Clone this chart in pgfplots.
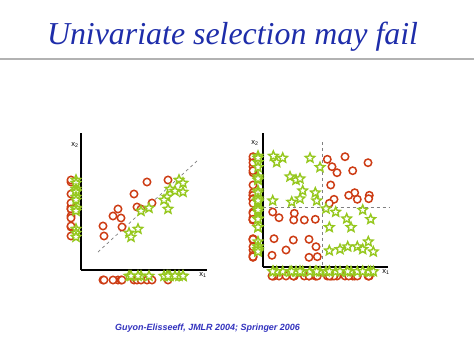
\documentclass[border=0pt]{standalone}
\usepackage{pgfplots}
\usepackage{pgfplotstable}
\pgfplotsset{compat=1.18}
\usepackage{fontspec}
\setmainfont{Liberation Serif}
\setsansfont{Liberation Sans}
\definecolor{tblue}{RGB}{30,45,170}
\definecolor{cblue}{RGB}{50,50,190}
\definecolor{pred}{RGB}{205,60,20}
\definecolor{pgreen}{RGB}{150,200,30}
\pgfdeclareplotmark{pstar}{%
  \pgfpathmoveto{\pgfpointpolar{90}{\pgfplotmarksize}}%
  \pgfpathlineto{\pgfpointpolar{126}{0.45\pgfplotmarksize}}%
  \pgfpathlineto{\pgfpointpolar{162}{\pgfplotmarksize}}%
  \pgfpathlineto{\pgfpointpolar{198}{0.45\pgfplotmarksize}}%
  \pgfpathlineto{\pgfpointpolar{234}{\pgfplotmarksize}}%
  \pgfpathlineto{\pgfpointpolar{270}{0.45\pgfplotmarksize}}%
  \pgfpathlineto{\pgfpointpolar{306}{\pgfplotmarksize}}%
  \pgfpathlineto{\pgfpointpolar{342}{0.45\pgfplotmarksize}}%
  \pgfpathlineto{\pgfpointpolar{18}{\pgfplotmarksize}}%
  \pgfpathlineto{\pgfpointpolar{54}{0.45\pgfplotmarksize}}%
  \pgfpathclose
  \pgfusepathqfillstroke
}
\pgfplotstableread{
x y
66 88
87 90
53 76
56 63
60 61
71 67
37 61
32 54
40 52
41 43
22 44
23 34
}\lr
\pgfplotstableread{
x y
98 90
102 87
89 81
94 79
102 78
86 73
83 70
87 61
68 62
60 59
57 41
48 37
50 33
}\lg
\pgfplotstableread{
x y
64.3 107.7
82 110.3
69 100.3
74 94.3
89.7 96.3
105 104.3
67.7 82
91.7 74.3
85.7 71.7
94.3 67.7
106.3 71.7
105.7 68.3
71 67.7
66.3 63.7
9.7 55
16 49.3
31.3 53.7
30.7 47
41.3 47
52.3 47.7
11 28.3
30.3 27
46 27.7
23 17
53 20.3
9 11.7
46 9.7
54.3 10.3
}\rr
\pgfplotstableread{
x y
10.3 111
19.7 109
13.7 104.7
47 109
57 99.7
27 90.3
33 87
37 88.3
39.7 76.3
52.3 74.3
9.7 66.3
28.7 65
37 68.3
53.7 66.3
63 58.3
72.7 55
99.7 57
83.7 48.3
107.7 47.7
66.3 39.7
88 39.7
105.3 25.3
66.3 16.3
77 17.7
84.7 20.3
94.3 20.3
99.7 17.7
110.3 15.3
}\rg
\tikzset{lab/.style={font=\sffamily\fontsize{7.5}{8}\selectfont}}
\pgfplotsset{
  scat/.style={scale only axis, axis lines=left, axis line style={-, line width=2bp, black},
    xtick=\empty, ytick=\empty, clip=false, anchor=south west},
  redc/.style={only marks, mark=*, mark size=3.7bp, mark options={draw=pred, fill=white, line width=1.5bp}},
  grs/.style={only marks, mark=pstar, mark size=5bp, mark options={draw=pgreen, fill=white, line width=1.4bp}}
}
\begin{document}
\begin{tikzpicture}[x=1bp,y=1bp]
\useasboundingbox (0,0) rectangle (474,355);
\fill[white] (0,0) rectangle (474,355);
\node[anchor=base, text=tblue, font=\itshape\fontsize{32}{36}\selectfont, inner sep=0] at (232.5,311) {Univariate selection may fail};
\draw[line width=1.3bp, black!30] (0,296) -- (474,296);
\node[anchor=base west, text=cblue, font=\sffamily\bfseries\itshape\fontsize{9}{10}\selectfont, inner sep=0] at (115,25) {Guyon-Elisseeff, JMLR 2004; Springer 2006};
% left plot
\begin{axis}[scat, at={(81bp,85bp)}, width=126bp, height=137bp, xmin=0, xmax=126, ymin=0, ymax=137]
\addplot[gray, dashed, line width=0.7bp] coordinates {(17,18) (116,109)};
\addplot[redc] table {\lr};
\addplot[grs] table {\lg};
\addplot[redc] table[x expr=-10, y=y] {\lr};
\addplot[grs] table[x expr=-5, y=y] {\lg};
\addplot[redc] table[x=x, y expr=-10] {\lr};
\addplot[grs] table[x=x, y expr=-6] {\lg};
\node[lab] at (axis cs:-6,125) {x\textsubscript{2}};
\node[lab] at (axis cs:122,-5) {x\textsubscript{1}};
\end{axis}
% right plot
\begin{axis}[scat, at={(263bp,88bp)}, width=125bp, height=134bp, xmin=0, xmax=125, ymin=0, ymax=134]
\addplot[gray, dashed, line width=0.7bp] coordinates {(59,125) (59,0)};
\addplot[gray, dashed, line width=0.7bp] coordinates {(0,60) (127,60)};
\addplot[redc] table {\rr};
\addplot[grs] table {\rg};
\addplot[redc] table[x expr=-10, y=y] {\rr};
\addplot[grs] table[x expr=-5, y=y] {\rg};
\addplot[redc] table[x=x, y expr=-9] {\rr};
\addplot[grs] table[x=x, y expr=-4.5] {\rg};
\node[lab] at (axis cs:-8,124) {x\textsubscript{2}};
\node[lab] at (axis cs:123,-5) {x\textsubscript{1}};
\end{axis}
\end{tikzpicture}
\end{document}
